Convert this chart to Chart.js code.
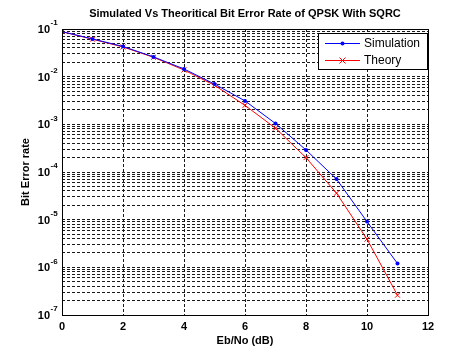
<!DOCTYPE html>
<html>
<head>
<meta charset="utf-8">
<script src="https://cdn.jsdelivr.net/npm/chart.js@4.4.0/dist/chart.umd.min.js"></script>
<style>
  html, body { margin: 0; padding: 0; background: #fff; }
  #wrap { width: 474px; height: 355px; position: relative; }
</style>
</head>
<body>
<div id="wrap"><canvas id="c" width="474" height="355"></canvas></div>
<script>
// ---- data ----
const ebno = [0, 1, 2, 3, 4, 5, 6, 7, 8, 9, 10, 11];
const simulation = [8.8e-2, 6.2e-2, 4.3e-2, 2.6e-2, 1.45e-2, 7.0e-3, 3.1e-3, 1.04e-3, 2.9e-4, 7.1e-5, 9.1e-6, 1.2e-6];
const theory = [8.8e-2, 6.1e-2, 4.2e-2, 2.55e-2, 1.38e-2, 6.6e-3, 2.5e-3, 8.3e-4, 2.0e-4, 3.6e-5, 3.9e-6, 2.6e-7];
const yDecades = [-7, -6, -5, -4, -3, -2, -1];
const yMinorMultipliers = [1, 2, 3, 4, 5, 6, 7, 8, 9];
const xTicks = [0, 2, 4, 6, 8, 10, 12];
const seriesNames = ['Simulation', 'Theory'];
const titleText = 'Simulated Vs Theoritical Bit Error Rate of QPSK With SQRC';
const xTitle = 'Eb/No (dB)';
const yTitle = 'Bit Error rate';

const FONT = '"Liberation Sans", Arial, sans-serif';

const decorPlugin = {
  id: 'decor',
  afterDraw(chart) {
    const ctx = chart.ctx;
    const a = chart.chartArea;
    const ys = chart.scales.y;
    ctx.save();
    // box
    ctx.strokeStyle = '#000';
    ctx.lineWidth = 1;
    ctx.setLineDash([]);
    ctx.strokeRect(Math.round(a.left) + 0.5, Math.round(a.top) + 0.5, Math.round(a.right - a.left), Math.round(a.bottom - a.top));
    // title
    ctx.fillStyle = '#000';
    ctx.font = 'bold 11px ' + FONT;
    ctx.textAlign = 'center';
    ctx.textBaseline = 'middle';
    ctx.fillText(titleText, 245, 14);
    // y decade labels
    yDecades.forEach(e => {
      const y = ys.getPixelForValue(Math.pow(10, e));
      ctx.font = 'bold 11px ' + FONT;
      ctx.textAlign = 'right';
      ctx.textBaseline = 'middle';
      ctx.fillText('10', 50, y + 1);
      ctx.font = 'bold 8px ' + FONT;
      ctx.textAlign = 'left';
      ctx.fillText(String(e), 50.5, y - 6);
    });
    // legend
    const lx = 318, ly = 33, lw = 109, lh = 36;
    ctx.fillStyle = '#fff';
    ctx.fillRect(lx, ly, lw, lh);
    ctx.strokeStyle = '#000';
    ctx.strokeRect(lx + 0.5, ly + 0.5, lw, lh);
    chart.data.datasets.forEach((ds, i) => {
      const yy = ly + 10 + i * 17;
      ctx.strokeStyle = ds.borderColor;
      ctx.lineWidth = 1;
      ctx.beginPath();
      ctx.moveTo(lx + 7, yy + 0.5);
      ctx.lineTo(lx + 42, yy + 0.5);
      ctx.stroke();
      const mx = lx + 24.5;
      if (i === 0) {
        ctx.fillStyle = ds.borderColor;
        ctx.beginPath();
        ctx.arc(mx, yy + 0.5, 2, 0, Math.PI * 2);
        ctx.fill();
      } else {
        ctx.beginPath();
        ctx.moveTo(mx - 3, yy - 2.5); ctx.lineTo(mx + 3, yy + 3.5);
        ctx.moveTo(mx + 3, yy - 2.5); ctx.lineTo(mx - 3, yy + 3.5);
        ctx.stroke();
      }
      ctx.fillStyle = '#000';
      ctx.font = '12px ' + FONT;
      ctx.textAlign = 'left';
      ctx.textBaseline = 'middle';
      ctx.fillText(ds.label, lx + 46, yy + 1);
    });
    ctx.restore();
  }
};

new Chart(document.getElementById('c'), {
  type: 'line',
  data: {
    datasets: [
      {
        label: seriesNames[0],
        data: ebno.map((x, i) => ({ x: x, y: simulation[i] })),
        borderColor: '#0000ff',
        backgroundColor: '#0000ff',
        borderWidth: 1,
        pointRadius: 2,
        pointStyle: 'circle',
        pointBorderWidth: 0,
        tension: 0
      },
      {
        label: seriesNames[1],
        data: ebno.map((x, i) => ({ x: x, y: theory[i] })),
        borderColor: '#ff0000',
        backgroundColor: '#ff0000',
        borderWidth: 1,
        pointRadius: 3.5,
        pointStyle: 'crossRot',
        pointBorderWidth: 1,
        tension: 0
      }
    ]
  },
  options: {
    responsive: false,
    animation: false,
    layout: { padding: { top: 29, right: 46, left: 0, bottom: 0 } },
    plugins: {
      legend: { display: false },
      title: { display: false },
      tooltip: { enabled: false }
    },
    scales: {
      x: {
        type: 'linear',
        min: 0,
        max: 12,
        afterBuildTicks: s => { s.ticks = xTicks.map(v => ({ value: v })); },
        afterFit: s => { s.height = 40; },
        grid: { color: '#1a1a1a', lineWidth: 1, drawTicks: false },
        border: { display: false, dash: [3, 2] },
        ticks: {
          color: '#000',
          font: { family: FONT, size: 11, weight: 'bold' },
          padding: 5,
          maxRotation: 0
        },
        title: {
          display: true,
          text: xTitle,
          color: '#000',
          font: { family: FONT, size: 11, weight: 'bold' },
          padding: { top: 0, bottom: 7 }
        }
      },
      y: {
        type: 'logarithmic',
        min: 1e-7,
        max: 1e-1,
        afterBuildTicks: s => {
          const t = [];
          yDecades.forEach(e => {
            yMinorMultipliers.forEach(m => {
              const v = m * Math.pow(10, e);
              if (v <= 1e-1 * 1.0001) t.push({ value: v, major: m === 1 });
            });
          });
          s.ticks = t;
        },
        afterFit: s => { s.width = 62; },
        grid: { color: '#1a1a1a', lineWidth: 1, drawTicks: false },
        border: { display: false, dash: [3, 2] },
        ticks: { display: false },
        title: {
          display: true,
          text: yTitle,
          color: '#000',
          font: { family: FONT, size: 11, weight: 'bold' },
          padding: { top: 19, bottom: 0 }
        }
      }
    }
  },
  plugins: [decorPlugin]
});
</script>
</body>
</html>
